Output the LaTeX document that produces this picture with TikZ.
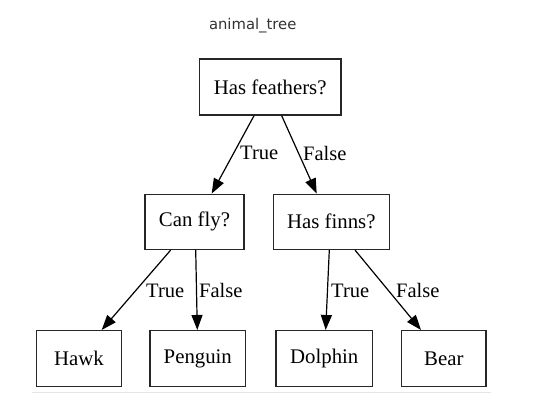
\documentclass[tikz,border=0pt]{standalone}
\usepackage{fontspec}
\setmainfont{Liberation Serif}
\newfontfamily\titlefont{DejaVu Sans}
\usetikzlibrary{arrows.meta}
\begin{document}
\begin{tikzpicture}[x=1pt,y=-1pt,
  box/.style={draw=black!85,line width=1.5pt,inner sep=0pt,minimum height=56pt,
    font=\fontsize{20.8}{25}\selectfont},
  edge/.style={draw=black,line width=1.2pt,-{Triangle[length=15pt,width=11pt]}},
  elabel/.style={anchor=west,inner sep=0pt,font=\fontsize{20.5}{25}\selectfont}]
\useasboundingbox (0,0) rectangle (542,404);
\node[anchor=base,inner sep=0pt,font=\titlefont\fontsize{14.8}{18}\selectfont,text=black!80] (title) at (252.7,29.5) {animal\_tree};
\node[box,minimum width=141.7pt] (hf) at (270.2,87) {Has feathers?};
\node[box,minimum width=99pt,minimum height=55pt] (cf) at (194.5,221.8) {Can fly?};
\node[box,minimum width=116pt,minimum height=55pt] (hfi) at (331.3,221.8) {Has finns?};
\node[box,minimum width=84.6pt] (hawk) at (79,358.7) {Hawk};
\node[box,minimum width=95.7pt] (peng) at (197.8,358.7) {Penguin};
\node[box,minimum width=96.7pt] (dol) at (324.3,358.7) {Dolphin};
\node[box,minimum width=84.3pt] (bear) at (443.8,358.7) {Bear};
\draw[edge] ([xshift=-16.2pt]hf.south) -- ([xshift=17.2pt]cf.north);
\draw[edge] ([xshift=11.5pt]hf.south) -- ([xshift=-14.6pt]hfi.north);
\draw[edge] ([xshift=-23.8pt]cf.south) -- ([xshift=22.7pt]hawk.north);
\draw[edge] ([xshift=1.2pt]cf.south) -- ([xshift=-0.5pt]peng.north);
\draw[edge] ([xshift=-2pt]hfi.south) -- ([xshift=1.4pt]dol.north);
\draw[edge] ([xshift=23.7pt]hfi.south) -- ([xshift=-22.8pt]bear.north);
\node[elabel] (l1) at (240,153) {True};
\node[elabel] (l2) at (303,153) {False};
\node[elabel] (l3) at (146,290.7) {True};
\node[elabel] (l4) at (199,290.7) {False};
\node[elabel] (l5) at (331,290.7) {True};
\node[elabel] (l6) at (396,290.7) {False};
\coordinate (g1) at (31.7,392.7);
\coordinate (g2) at (491,392.7);
\draw[black!10,line width=0.8pt] (g1) -- (g2);
\end{tikzpicture}
\end{document}
